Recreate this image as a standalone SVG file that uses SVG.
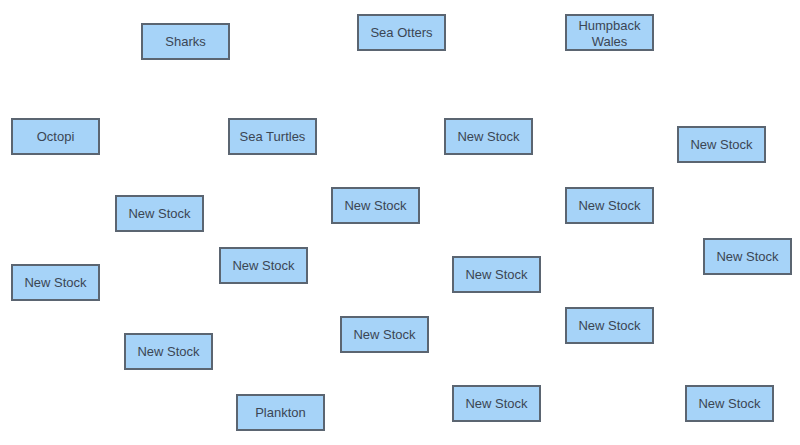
<svg xmlns="http://www.w3.org/2000/svg" width="800" height="445" viewBox="0 0 800 445">
<style>
.n rect{fill:#a6d3f8;stroke:#5b6571;stroke-width:2}
.n text{font-family:"Liberation Sans",Arial,sans-serif;font-size:13px;fill:#3b4654;text-anchor:middle;dominant-baseline:central}
</style>
<rect width="800" height="445" fill="#ffffff"/>
<g id="connectors"></g>
<g id="sharks" class="n"><rect x="142" y="24" width="87" height="35"/><text x="185.5" y="41.5">Sharks</text></g>
<g id="seaotters" class="n"><rect x="358" y="15" width="87" height="35"/><text x="401.5" y="32.5">Sea Otters</text></g>
<g id="humpback" class="n"><rect x="566" y="15" width="87" height="35"/><text x="609.5" y="25">Humpback</text><text x="609.5" y="41">Wales</text></g>
<g id="octopi" class="n"><rect x="12" y="119" width="87" height="35"/><text x="55.5" y="136.5">Octopi</text></g>
<g id="seaturtles" class="n"><rect x="229" y="119" width="87" height="35"/><text x="272.5" y="136.5">Sea Turtles</text></g>
<g id="ns1" class="n"><rect x="445" y="119" width="87" height="35"/><text x="488.5" y="136.5">New Stock</text></g>
<g id="ns2" class="n"><rect x="678" y="127" width="87" height="35"/><text x="721.5" y="144.5">New Stock</text></g>
<g id="ns3" class="n"><rect x="116" y="196" width="87" height="35"/><text x="159.5" y="213.5">New Stock</text></g>
<g id="ns4" class="n"><rect x="332" y="188" width="87" height="35"/><text x="375.5" y="205.5">New Stock</text></g>
<g id="ns5" class="n"><rect x="566" y="188" width="87" height="35"/><text x="609.5" y="205.5">New Stock</text></g>
<g id="ns6" class="n"><rect x="704" y="239" width="87" height="35"/><text x="747.5" y="256.5">New Stock</text></g>
<g id="ns7" class="n"><rect x="220" y="248" width="87" height="35"/><text x="263.5" y="265.5">New Stock</text></g>
<g id="ns8" class="n"><rect x="12" y="265" width="87" height="35"/><text x="55.5" y="282.5">New Stock</text></g>
<g id="ns9" class="n"><rect x="453" y="257" width="87" height="35"/><text x="496.5" y="274.5">New Stock</text></g>
<g id="ns10" class="n"><rect x="341" y="317" width="87" height="35"/><text x="384.5" y="334.5">New Stock</text></g>
<g id="ns11" class="n"><rect x="566" y="308" width="87" height="35"/><text x="609.5" y="325.5">New Stock</text></g>
<g id="ns12" class="n"><rect x="125" y="334" width="87" height="35"/><text x="168.5" y="351.5">New Stock</text></g>
<g id="plankton" class="n"><rect x="237" y="395" width="87" height="35"/><text x="280.5" y="412.5">Plankton</text></g>
<g id="ns13" class="n"><rect x="453" y="386" width="87" height="35"/><text x="496.5" y="403.5">New Stock</text></g>
<g id="ns14" class="n"><rect x="686" y="386" width="87" height="35"/><text x="729.5" y="403.5">New Stock</text></g>
</svg>
